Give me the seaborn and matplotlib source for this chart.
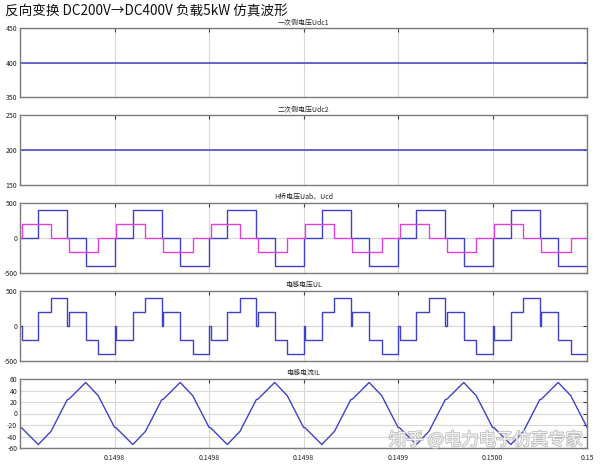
import numpy as np
import pandas as pd
import matplotlib
matplotlib.use("Agg")
import matplotlib.pyplot as plt
import matplotlib.patheffects as pe
import seaborn as sns

# 时间轴：25kHz 开关周期，显示最后 6 个周期
period = 4e-5
t_end = 0.15
n_periods = 6
xtick_labels = ['0.1498', '0.1498', '0.1498', '0.1499', '0.1500', '0.15']

# 直流电压
udc1 = 400
udc2 = 200

# 一个周期内的波形（相位为周期的比例）
uab_phase = [0.0, 0.194, 0.5, 0.695]
uab_level = [0, 400, 0, -400]
ucd_phase = [0.0, 0.018, 0.328, 0.518, 0.828]
ucd_level = [0, 200, 0, -200, 0]
ul_phase = [0.0, 0.018, 0.194, 0.328, 0.5, 0.518, 0.695, 0.828]
ul_level = [0, -200, 200, 400, 0, 200, -200, -400]
il_phase = [0.0, 0.018, 0.194, 0.328, 0.5, 0.518, 0.695, 0.828]
il_value = [-24, -25, -54, -31, 24, 25, 54, 31]

t_start = t_end - n_periods * period
blue = '#4040c8'
pink = '#e040e0'


def repeat_periods(phase, values):
    # 把一个周期的数据按周期展开
    t = []
    v = []
    for k in range(n_periods):
        for p, val in zip(phase, values):
            t.append(t_start + (k + p) * period)
            v.append(val)
    t.append(t_end)
    return t, v


def steps(phase, values):
    t, v = repeat_periods(phase, values)
    v.append(v[-1])
    return pd.DataFrame({'t': t, 'v': v})


def ramps(phase, values):
    t, v = repeat_periods(phase, values)
    v.append(values[0])
    return pd.DataFrame({'t': t, 'v': v})


sns.set_theme(style='white')
plt.rcParams['font.family'] = ['Noto Sans CJK SC', 'DejaVu Sans']
plt.rcParams['axes.unicode_minus'] = False

fig = plt.figure(figsize=(6, 4.68), dpi=100)
W, H = 600, 468
boxes = [(28, 97), (115, 185), (203, 273), (291, 361), (379, 448)]
axes = []
for top, bottom in boxes:
    ax = fig.add_axes([20 / W, 1 - bottom / H, 567 / W, (bottom - top) / H])
    axes.append(ax)

flat = pd.DataFrame({'t': [t_start, t_end]})

# 一次侧电压
sns.lineplot(x=flat['t'], y=[udc1, udc1], ax=axes[0], color=blue, linewidth=1.1)
axes[0].set_ylim(350, 450)
axes[0].set_yticks([350, 400, 450])
axes[0].set_title('一次侧电压Udc1', fontsize=5, pad=3)

# 二次侧电压
sns.lineplot(x=flat['t'], y=[udc2, udc2], ax=axes[1], color=blue, linewidth=1.1)
axes[1].set_ylim(150, 250)
axes[1].set_yticks([150, 200, 250])
axes[1].set_title('二次侧电压Udc2', fontsize=5, pad=3)

# H桥电压
d = steps(uab_phase, uab_level)
sns.lineplot(data=d, x='t', y='v', ax=axes[2], color=blue, linewidth=1.0,
             drawstyle='steps-post', estimator=None, sort=False)
d = steps(ucd_phase, ucd_level)
sns.lineplot(data=d, x='t', y='v', ax=axes[2], color=pink, linewidth=1.0,
             drawstyle='steps-post', estimator=None, sort=False)
axes[2].set_ylim(-500, 500)
axes[2].set_yticks([-500, 0, 500])
axes[2].set_title('H桥电压Uab、Ucd', fontsize=5, pad=3)

# 电感电压
d = steps(ul_phase, ul_level)
sns.lineplot(data=d, x='t', y='v', ax=axes[3], color=blue, linewidth=1.0,
             drawstyle='steps-post', estimator=None, sort=False)
axes[3].set_ylim(-500, 500)
axes[3].set_yticks([-500, 0, 500])
axes[3].set_title('电感电压UL', fontsize=5, pad=3)

# 电感电流
d = ramps(il_phase, il_value)
sns.lineplot(data=d, x='t', y='v', ax=axes[4], color=blue, linewidth=1.0,
             estimator=None, sort=False)
axes[4].set_ylim(-60, 60)
axes[4].set_yticks([-60, -40, -20, 0, 20, 40, 60])
axes[4].set_title('电感电流IL', fontsize=5, pad=3)

xticks = [t_start + k * period for k in range(1, n_periods + 1)]
for i, ax in enumerate(axes):
    ax.set_xlim(t_start, t_end)
    ax.set_xticks(xticks)
    if i == len(axes) - 1:
        ax.set_xticklabels(xtick_labels)
    else:
        ax.set_xticklabels([])
    ax.set_xlabel('')
    ax.set_ylabel('')
    ax.grid(True, color='#d8d8d8', linewidth=0.8)
    ax.set_axisbelow(True)
    ax.tick_params(direction='in', length=3, width=0.8, color='#444444',
                   labelsize=5, pad=2, top=True, right=True, labelcolor='#222222')
    for s in ax.spines.values():
        s.set_color('#7a7a7a')
        s.set_linewidth(1.0)
axes[-1].tick_params(axis='x', pad=4)

fig.text(5 / W, 1 - 12 / H, '反向变换 DC200V→DC400V 负载5kW 仿真波形',
         fontsize=9.8, ha='left', va='center', color='#111111')

fig.text(486 / W, 1 - 440 / H, '知乎 @电力电子仿真专家', fontsize=12.5,
         ha='center', va='center', color='white', alpha=0.85,
         path_effects=[pe.withStroke(linewidth=1.2, foreground='#b0b0b0')])

plt.savefig('out.png', dpi=100)
